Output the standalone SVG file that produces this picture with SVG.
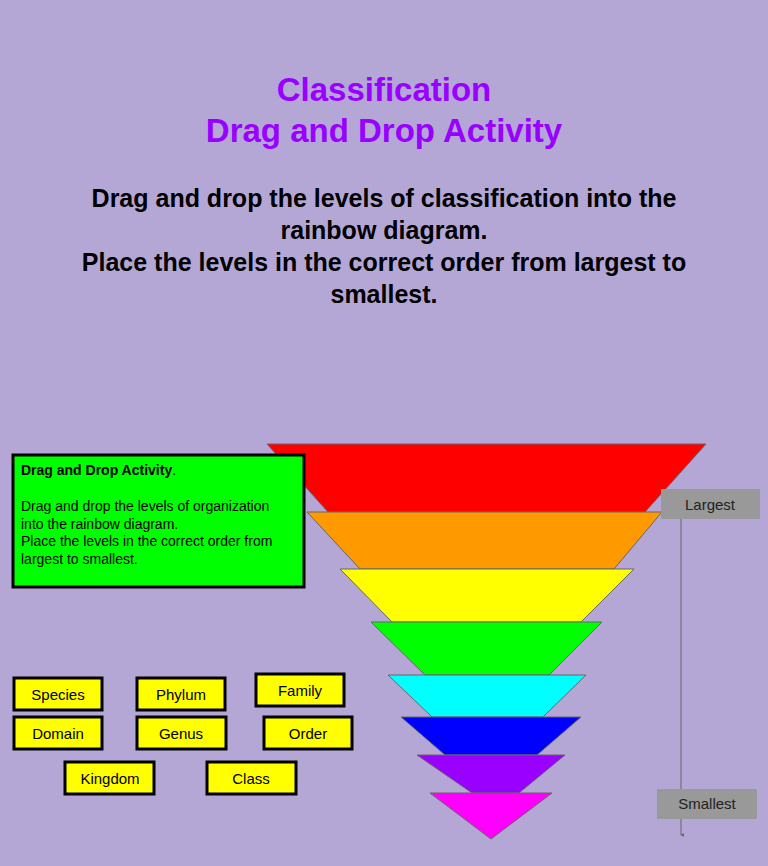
<svg xmlns="http://www.w3.org/2000/svg" width="768" height="866" viewBox="0 0 768 866">
<style>
text{font-family:"Liberation Sans",Arial,sans-serif}
.t{fill:#9900ff;font-size:33px;font-weight:bold;text-anchor:middle}
.s{fill:#000;font-size:25px;font-weight:bold;text-anchor:middle}
.tz{stroke:#666;stroke-width:1}
.btn rect{fill:#ffff00;stroke:#000;stroke-width:3}
.btn text{font-size:15px;text-anchor:middle}
.g rect{fill:#999}
.g text{font-size:15px;text-anchor:middle;fill:#222}
.info{font-size:14px}
</style>
<defs><marker id="a" viewBox="0 0 6 6" refX="3" refY="5" markerWidth="4" markerHeight="4" orient="auto-start-reverse"><path d="M0,0L6,0L3,6z" fill="#666"/></marker></defs>
<rect width="768" height="866" fill="#b4a7d6"/>
<text class="t" x="384" y="101">Classification</text>
<text class="t" x="384" y="142">Drag and Drop Activity</text>
<text class="s" x="384" y="207">Drag and drop the levels of classification into the</text>
<text class="s" x="384" y="239">rainbow diagram.</text>
<text class="s" x="384" y="271">Place the levels in the correct order from largest to</text>
<text class="s" x="384" y="303">smallest.</text>
<g id="rainbow">
<polygon class="tz" fill="#ff0000" points="267,444 706,444 645,512 328,512"/>
<polygon class="tz" fill="#ff9900" points="307,512 662,512 614,569 360,569"/>
<polygon class="tz" fill="#ffff00" points="340,569 634,569 581,622 392,622"/>
<polygon class="tz" fill="#00ff00" points="371,622 602,622 549,675 425,675"/>
<polygon class="tz" fill="#00ffff" points="388,675 586,675 543,717 432,717"/>
<polygon class="tz" fill="#0000ff" points="401,717 581,717 537,755 445,755"/>
<polygon class="tz" fill="#9900ff" points="417,755 565,755 519,793 472,793"/>
<polygon class="tz" fill="#ff00ff" points="430,793 552,793 491,839"/>
</g>
<g id="connectors"><line x1="681" y1="519" x2="681" y2="835" stroke="#666" stroke-width="1" marker-end="url(#a)"/></g>
<g id="largest" class="g"><rect x="661" y="489" width="99" height="30"/><text x="710" y="510">Largest</text></g>
<g id="smallest" class="g"><rect x="657" y="789" width="100" height="30"/><text x="707" y="809">Smallest</text></g>
<g id="info"><rect x="13" y="455" width="291" height="132" fill="#00ff00" stroke="#000" stroke-width="3"/>
<text class="info" x="21" y="475"><tspan font-weight="bold">Drag and Drop Activity</tspan>.</text>
<text class="info" x="21" y="511">Drag and drop the levels of organization</text>
<text class="info" x="21" y="529">into the rainbow diagram.</text>
<text class="info" x="21" y="546">Place the levels in the correct order from</text>
<text class="info" x="21" y="564">largest to smallest.</text></g>
<g id="species" class="btn"><rect x="14" y="678" width="88" height="32"/><text x="58" y="700">Species</text></g>
<g id="phylum" class="btn"><rect x="137" y="678" width="88" height="32"/><text x="181" y="700">Phylum</text></g>
<g id="family" class="btn"><rect x="256" y="674" width="88" height="32"/><text x="300" y="696">Family</text></g>
<g id="domain" class="btn"><rect x="14" y="717" width="88" height="32"/><text x="58" y="739">Domain</text></g>
<g id="genus" class="btn"><rect x="137" y="717" width="89" height="32"/><text x="181" y="739">Genus</text></g>
<g id="order" class="btn"><rect x="264" y="717" width="88" height="32"/><text x="308" y="739">Order</text></g>
<g id="kingdom" class="btn"><rect x="65" y="762" width="89" height="32"/><text x="110" y="784">Kingdom</text></g>
<g id="class" class="btn"><rect x="207" y="762" width="89" height="32"/><text x="251" y="784">Class</text></g>
</svg>
